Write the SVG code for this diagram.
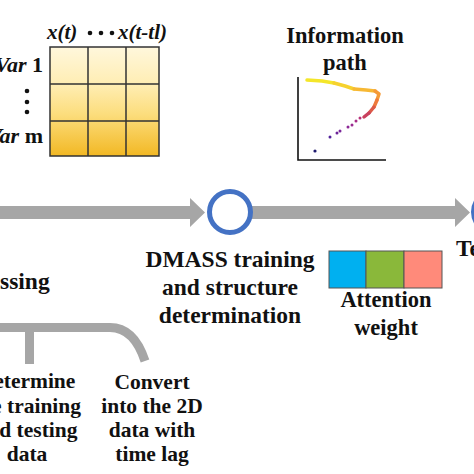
<svg xmlns="http://www.w3.org/2000/svg" width="474" height="474" viewBox="0 0 474 474">
  <style>
    .t { font-family: "Liberation Serif", "Times New Roman", serif; font-weight: bold; fill: #111; }
    .band { fill: #A6A6A6; }
    .node { fill: #fff; stroke: #4472C4; stroke-width: 5; }
    .grid { fill: none; stroke: #333; stroke-width: 1.5; }
    .dot { stroke: none; }
  </style>
  <defs>
    <linearGradient id="gold" x1="0" y1="0" x2="0" y2="1">
      <stop offset="0" stop-color="#FFF7DC"/>
      <stop offset="0.35" stop-color="#FFEDB2"/>
      <stop offset="0.62" stop-color="#FCDD7C"/>
      <stop offset="1" stop-color="#F2B824"/>
    </linearGradient>
  </defs>

  <!-- Input matrix -->
  <g id="matrix">
    <rect x="50" y="47" width="109" height="109" fill="url(#gold)"/>
    <path class="grid" d="M50,47H159V156H50Z M88,47V156 M126,47V156 M50,84H159 M50,121H159"/>
    <text class="t" x="47" y="39" font-size="21" font-style="italic">x(t)</text>
    <circle cx="90" cy="33" r="2.3" fill="#111"/>
    <circle cx="101" cy="33" r="2.3" fill="#111"/>
    <circle cx="112" cy="33" r="2.3" fill="#111"/>
    <text class="t" x="118" y="39" font-size="21" font-style="italic">x(t-tl)</text>
    <text class="t" x="43" y="72" font-size="22" text-anchor="end"><tspan font-style="italic">Var</tspan> 1</text>
    <circle cx="27" cy="91" r="2.3" fill="#111"/>
    <circle cx="27" cy="102" r="2.3" fill="#111"/>
    <circle cx="27" cy="112" r="2.3" fill="#111"/>
    <text class="t" x="43" y="143" font-size="22" text-anchor="end"><tspan font-style="italic">Var</tspan> m</text>
  </g>

  <!-- Information path plot -->
  <g id="info-path">
    <text class="t" x="345" y="43" font-size="22.5" text-anchor="middle">Information</text>
    <text class="t" x="345" y="70" font-size="22.5" text-anchor="middle">path</text>
    <path d="M298,77V160H386" fill="none" stroke="#111" stroke-width="1.6"/>
    <g fill="none" stroke-width="3.5" stroke-linecap="round" stroke-linejoin="round">
      <path d="M307,80 L322,81 L334,83" stroke="#F4E62A"/>
      <path d="M334,83 L345,86 L354,89" stroke="#F6D22E"/>
      <path d="M354,89 L366,90 L375,91" stroke="#F7B834"/>
      <path d="M375,91 L379,94 L377,100" stroke="#F59A38"/>
      <path d="M377,100 L374,107" stroke="#EE7A3C"/>
      <path d="M374,107 L369,113" stroke="#DD5A48"/>
      <path d="M369,113 L364,117" stroke="#C9405E"/>
    </g>
    <circle class="dot" cx="360" cy="118" r="1.5" fill="#B8317A"/>
    <circle class="dot" cx="356" cy="121" r="1.5" fill="#A82C88"/>
    <circle class="dot" cx="352" cy="125" r="1.5" fill="#9A2A90"/>
    <circle class="dot" cx="348" cy="127" r="1.5" fill="#8C2896"/>
    <circle class="dot" cx="340" cy="131" r="1.5" fill="#7A269A"/>
    <circle class="dot" cx="337" cy="133" r="1.5" fill="#6C2498"/>
    <circle class="dot" cx="330" cy="137" r="1.5" fill="#52229A"/>
    <circle class="dot" cx="315" cy="151" r="1.6" fill="#1E1A6E"/>
  </g>

  <!-- Connectors -->
  <g id="connectors">
    <path class="band" d="M0,206H190V198L205,212.5L190,227V219H0Z"/>
    <path class="band" d="M250,206H455V198L470,212.5L455,227V219H250Z"/>
    <path d="M0,327.5H110Q134,327.5 145,361" fill="none" stroke="#A6A6A6" stroke-width="9"/>
    <path d="M29.5,327V364" fill="none" stroke="#A6A6A6" stroke-width="9"/>
  </g>

  <!-- Step nodes -->
  <g id="node-dmass">
    <circle class="node" cx="230" cy="212" r="20.5"/>
    <text class="t" x="230" y="267" font-size="23.5" text-anchor="middle">DMASS training</text>
    <text class="t" x="230" y="295" font-size="23.5" text-anchor="middle">and structure</text>
    <text class="t" x="230" y="323" font-size="23.5" text-anchor="middle">determination</text>
  </g>
  <g id="node-test">
    <circle class="node" cx="494" cy="212" r="20.5"/>
    <text class="t" x="456" y="256" font-size="23.5">Te</text>
  </g>
  <g id="node-processing">
    <text class="t" x="0" y="289" font-size="23.5">ssing</text>
  </g>

  <!-- Attention weight -->
  <g id="attention">
    <rect x="329" y="251" width="37" height="37" fill="#00B0F0" stroke="#555" stroke-width="1"/>
    <rect x="366" y="251" width="38" height="37" fill="#8AB83A" stroke="#555" stroke-width="1"/>
    <rect x="404" y="251" width="38" height="37" fill="#FF8A7A" stroke="#555" stroke-width="1"/>
    <text class="t" x="386" y="307" font-size="22.5" text-anchor="middle">Attention</text>
    <text class="t" x="386" y="335" font-size="22.5" text-anchor="middle">weight</text>
  </g>

  <!-- Sub steps -->
  <g id="sub-split">
    <text class="t" x="27" y="388" font-size="21.5" text-anchor="middle">Determine</text>
    <text class="t" x="27" y="413" font-size="21.5" text-anchor="middle">the training</text>
    <text class="t" x="27" y="437" font-size="21.5" text-anchor="middle">and testing</text>
    <text class="t" x="27" y="461" font-size="21.5" text-anchor="middle">data</text>
  </g>
  <g id="sub-convert">
    <text class="t" x="152" y="389" font-size="21.5" text-anchor="middle">Convert</text>
    <text class="t" x="152" y="413" font-size="21.5" text-anchor="middle">into the 2D</text>
    <text class="t" x="152" y="437" font-size="21.5" text-anchor="middle">data with</text>
    <text class="t" x="152" y="461" font-size="21.5" text-anchor="middle">time lag</text>
  </g>
</svg>
